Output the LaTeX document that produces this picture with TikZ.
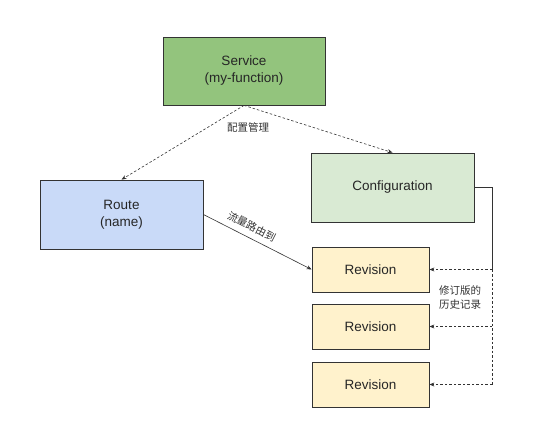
\documentclass[tikz,border=0pt]{standalone}
\usepackage{fontspec}
\setmainfont{Liberation Sans}
\newfontfamily\cjk{Noto Sans CJK SC}
\usetikzlibrary{arrows.meta}
\definecolor{svcgreen}{HTML}{93C47D}
\definecolor{routeblue}{HTML}{C9DAF8}
\definecolor{cfggreen}{HTML}{D9EAD3}
\definecolor{revyellow}{HTML}{FFF2CC}
\definecolor{edgegray}{HTML}{333333}
\tikzset{
  box/.style={draw=edgegray, line width=0.8pt, inner sep=0pt, align=center,
    font=\fontsize{13.5}{17}\selectfont, text=black!85},
  conn/.style={draw=edgegray, line width=0.6pt, -{Stealth[length=5pt,width=4pt]}},
  dconn/.style={conn, dashed, dash pattern=on 2.5pt off 2pt},
  lbl/.style={font=\cjk\fontsize{10.5}{14}\selectfont, text=black!80, inner sep=1pt, align=center}
}
\begin{document}
\begin{tikzpicture}[x=1pt,y=-1pt]
\useasboundingbox[fill=white] (0,0) rectangle (553,443);
\node[box, fill=svcgreen, minimum width=162pt, minimum height=68pt] (svc) at (244,71) {Service\\(my-function)};
\node[box, fill=routeblue, minimum width=163pt, minimum height=69pt] (route) at (121.5,214.5) {Route\\(name)};
\node[box, fill=cfggreen, minimum width=163pt, minimum height=69pt] (cfg) at (392.5,187.5) {Configuration};
\node[box, fill=revyellow, minimum width=117pt, minimum height=45pt] (r1) at (370.5,269.5) {Revision};
\node[box, fill=revyellow, minimum width=117pt, minimum height=45pt] (r2) at (370.5,326.5) {Revision};
\node[box, fill=revyellow, minimum width=117pt, minimum height=45pt] (r3) at (370.5,384.5) {Revision};
\coordinate (top) at (svc.south);
\draw[dconn] (top) -- (route.north);
\draw[dconn] (top) -- (cfg.north);
\node[lbl] (l1) at (248,127) {配置管理};
\draw[conn] (route.east) -- node[lbl, sloped, above=5pt, pos=0.4] (l2) {流量路由到} (r1.west);
\coordinate (c1) at (492,187.5);
\coordinate (c2) at (492,269.5);
\coordinate (c3) at (492,326.5);
\coordinate (c4) at (492,384.5);
\draw[draw=edgegray, line width=0.6pt] (cfg.east) -- (c1) -- (c2);
\draw[draw=edgegray, line width=0.6pt, dashed, dash pattern=on 2.5pt off 2pt] (c2) -- (c4);
\draw[dconn] (c2) -- (r1.east);
\draw[dconn] (c3) -- (r2.east);
\draw[dconn] (c4) -- (r3.east);
\node[lbl] (l3) at (460,297) {修订版的\\历史记录};
\end{tikzpicture}
\end{document}
